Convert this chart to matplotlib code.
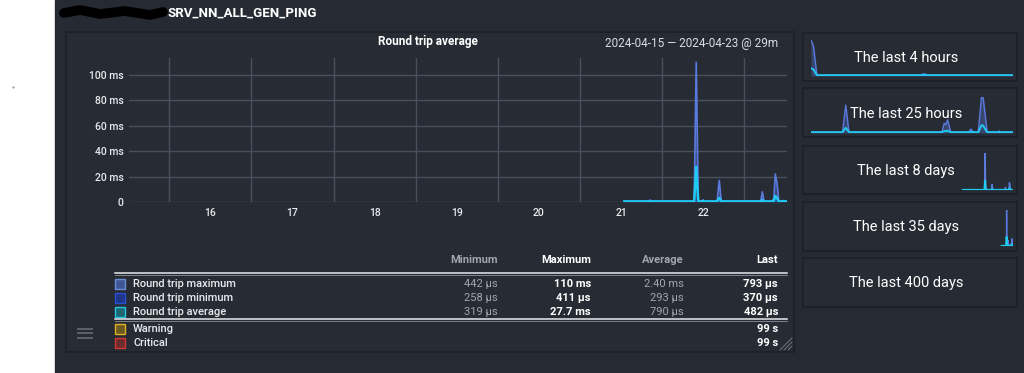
import matplotlib
matplotlib.use("Agg")
import matplotlib.pyplot as plt
from matplotlib.patches import Rectangle

plt.rcParams['font.family'] = ['Roboto', 'DejaVu Sans']

# --- data (ms) --------------------------------------------------------------
# main chart: x in days since 2024-04-16 00:00
days = [5.54, 5.83, 5.855, 5.88, 6.39, 6.415, 6.44, 6.48, 6.50, 6.52,
        6.67, 6.695, 6.72, 7.20, 7.22, 7.24, 7.34, 7.36, 7.378, 7.40,
        7.42, 7.455, 7.475, 7.495, 7.52]
rt_max = [0.60, 0.62, 1.5, 0.60, 0.58, 110.0, 0.61, 0.60, 1.6, 0.60,
          0.59, 17.0, 0.62, 0.60, 8.0, 0.61, 0.60, 3.0, 22.0, 14.0,
          0.60, 0.60, 1.2, 0.61, 0.79]
rt_min = [0.30, 0.29, 0.31, 0.30, 0.28, 0.41, 0.30, 0.29, 0.31, 0.30,
          0.29, 0.33, 0.30, 0.28, 0.30, 0.29, 0.30, 0.31, 0.35, 0.32,
          0.30, 0.29, 0.30, 0.30, 0.37]
rt_avg = [0.45, 0.44, 0.60, 0.45, 0.43, 27.7, 0.46, 0.45, 0.80, 0.45,
          0.44, 3.2, 0.46, 0.45, 1.5, 0.44, 0.45, 1.0, 4.7, 3.0,
          0.45, 0.44, 0.60, 0.45, 0.48]
day_labels = ['16', '17', '18', '19', '20', '21', '22']
y_ticks = [0, 20, 40, 60, 80, 100]

# last 4 hours (minutes)
t4h = [0, 3, 7, 130, 134, 138, 240]
max4h = [22.0, 18.0, 0.6, 0.6, 1.4, 0.6, 0.6]
avg4h = [4.7, 4.0, 0.45, 0.45, 0.7, 0.45, 0.45]

# last 25 hours (hours)
t25h = [0, 3.9, 4.3, 4.7, 16.2, 16.5, 16.7, 16.9, 17.3, 19.5, 19.8, 20.1,
        20.7, 21.1, 21.3, 21.8, 23.1, 23.3, 23.5, 25]
max25h = [0.6, 0.6, 17.0, 0.6, 0.6, 6.0, 5.0, 8.0, 0.6, 0.6, 2.4, 0.6,
          0.6, 22.0, 22.0, 0.6, 0.6, 1.2, 0.6, 0.6]
avg25h = [0.45, 0.45, 3.2, 0.45, 0.45, 1.2, 1.0, 1.5, 0.45, 0.45, 0.7, 0.45,
          0.45, 4.7, 4.5, 0.45, 0.45, 0.6, 0.45, 0.45]

legend_names = ['Round trip maximum', 'Round trip minimum', 'Round trip average']
col_min = ['442 µs', '258 µs', '319 µs']
col_max = ['110 ms', '411 µs', '27.7 ms']
col_avg = ['2.40 ms', '293 µs', '790 µs']
col_last = ['793 µs', '370 µs', '482 µs']
thresholds = ['Warning', 'Critical']
threshold_last = ['99 s', '99 s']
periods = ['The last 4 hours', 'The last 25 hours', 'The last 8 days',
           'The last 35 days', 'The last 400 days']

# --- style ------------------------------------------------------------------
BG = '#262b33'
PANEL = '#272c34'
BORDER = '#1c2026'
GRID = '#47505c'
TXT = '#e8eaee'
DIM = '#a0a6ae'
C_MAX = '#5b7ae0'
C_MIN = '#2446b8'
C_AVG = '#1ecaf0'
W, H = 1024, 373
FS = 8

fig = plt.figure(figsize=(W / 100, H / 100), dpi=100)
fig.patch.set_facecolor('white')


def px_axes(x0, y0, x1, y1):
    return fig.add_axes([x0 / W, 1 - y1 / H, (x1 - x0) / W, (y1 - y0) / H])


# background layer in pixel coordinates
bg = fig.add_axes([0, 0, 1, 1])
bg.set_xlim(0, W)
bg.set_ylim(H, 0)
bg.axis('off')
bg.add_patch(Rectangle((55, 0), W - 55, H, color=BG, zorder=0))
bg.add_patch(Rectangle((66, 32), 728, 320, facecolor=PANEL, edgecolor=BORDER, lw=1.2))
bg.plot([13], [87], marker='.', ms=1, color='#888')

# redacted host name + title
bg.plot([64, 80, 100, 125, 150, 163], [13, 10, 14, 11, 15, 12], color='black', lw=7,
        solid_capstyle='round')
bg.text(167, 13, 'SRV_NN_ALL_GEN_PING', color='white', fontsize=9.5, fontweight='bold',
        va='center', ha='left')

bg.text(428, 42, 'Round trip average', color='white', fontsize=8.5, fontweight='bold',
        ha='center', va='center')
bg.text(778, 43, '2024-04-15 \u2014 2024-04-23 @ 29m', color='#d8dce2', fontsize=8.5,
        ha='right', va='center')

# --- main chart -------------------------------------------------------------
ax = px_axes(129, 58, 787, 202)
ax.set_facecolor(PANEL)
ax.fill_between(days, rt_max, 0, color=C_MAX, alpha=0.35, lw=0)
ax.plot(days, rt_max, color=C_MAX, lw=1.2)
ax.plot(days, rt_min, color=C_MIN, lw=1.2)
ax.plot(days, rt_avg, color=C_AVG, lw=1.8)
ax.set_xlim(-0.49, 7.52)
ax.set_ylim(0, 113.4)
ax.set_xticks([i + 0.5 for i in range(len(day_labels))])
ax.set_xticklabels(day_labels)
ax.set_xticks(range(0, 8), minor=True)
ax.set_yticks(y_ticks)
ax.set_yticklabels(['0'] + ['%d ms' % v for v in y_ticks[1:]])
ax.grid(True, which='minor', axis='x', color=GRID, lw=1)
ax.grid(True, which='major', axis='y', color=GRID, lw=1)
ax.set_axisbelow(True)
ax.tick_params(which='both', length=0, colors=TXT, labelsize=7.5, pad=4)
for lab in ax.get_xticklabels() + ax.get_yticklabels():
    lab.set_fontweight('medium')
for s in ax.spines.values():
    s.set_visible(False)

# --- table ------------------------------------------------------------------
cols_x = [498, 591, 684, 778]
heads = ['Minimum', 'Maximum', 'Average', 'Last']
head_c = [DIM, 'white', DIM, 'white']
for x, h, c in zip(cols_x, heads, head_c):
    bg.text(x, 260, h, color=c, fontsize=FS, fontweight='bold', ha='right', va='center')

for y in (273, 318.5):
    bg.plot([115, 787], [y, y], color='#e8eaed', lw=1.1)
    bg.plot([115, 787], [y + 2, y + 2], color='#8a919a', lw=0.6)

sw_face = ['#3e5694', '#1f3585', '#1d6672']
sw_edge = ['#6c8cd8', '#2a50d8', '#22c8e0']
rows_y = [284.3, 298, 311.7]
for i, y in enumerate(rows_y):
    bg.add_patch(Rectangle((115, y - 5), 10, 10, facecolor=sw_face[i], edgecolor=sw_edge[i], lw=1))
    bg.text(133, y, legend_names[i], color=TXT, fontsize=FS, fontweight='medium', ha='left', va='center')
    bg.text(cols_x[0], y, col_min[i], color=DIM, fontsize=FS, ha='right', va='center')
    bg.text(cols_x[1], y, col_max[i], color='white', fontsize=FS, fontweight='bold', ha='right', va='center')
    bg.text(cols_x[2], y, col_avg[i], color=DIM, fontsize=FS, ha='right', va='center')
    bg.text(cols_x[3], y, col_last[i], color='white', fontsize=FS, fontweight='bold', ha='right', va='center')

th_face = ['#6b5a22', '#6a2c2e']
th_edge = ['#e0b020', '#d83434']
for i, y in enumerate([329.3, 342.7]):
    bg.add_patch(Rectangle((115, y - 5), 10, 10, facecolor=th_face[i], edgecolor=th_edge[i], lw=1))
    bg.text(133, y, thresholds[i], color=TXT, fontsize=FS, fontweight='medium', ha='left', va='center')
    bg.text(cols_x[3], y, threshold_last[i], color='white', fontsize=FS, fontweight='bold', ha='right', va='center')

# hamburger icon and resize grip
for y in (328.5, 333, 337.5):
    bg.plot([78, 92], [y, y], color='#5a626c', lw=1.4)
for d in (4, 8, 12):
    bg.plot([792 - d, 792], [350, 350 - d], color='#7a818a', lw=0.6)

# --- right side period boxes ------------------------------------------------
boxes = [(33, 81), (88, 137), (146, 194), (202, 251), (258, 307)]
for (top, bot), label in zip(boxes, periods):
    bg.add_patch(Rectangle((803, top), 214, bot - top, facecolor=PANEL, edgecolor=BORDER, lw=1.2))
    bg.text(906, (top + bot) / 2 + 1, label, color='white', fontsize=10.5,
            ha='center', va='center', zorder=5)


def spark(baseline, top, x, ymax, yavg, xlim, vmax):
    a = px_axes(811, top, 1013, baseline)
    a.fill_between(x, ymax, 0, color=C_MAX, alpha=0.35, lw=0)
    a.plot(x, ymax, color=C_MAX, lw=1.0)
    a.plot(x, yavg, color=C_AVG, lw=1.4)
    a.set_xlim(*xlim)
    a.set_ylim(0, vmax)
    a.axis('off')
    return a


spark(76, 40, t4h, max4h, avg4h, (0, 240), 22)
spark(133, 97, t25h, max25h, avg25h, (0, 25), 22)
spark(190, 153, days, rt_max, rt_avg, (-0.48, 7.52), 110)
spark(246, 210, days, rt_max, rt_avg, (7.52 - 35, 7.52), 110)

fig.savefig('out.png', dpi=100, facecolor=fig.get_facecolor())
